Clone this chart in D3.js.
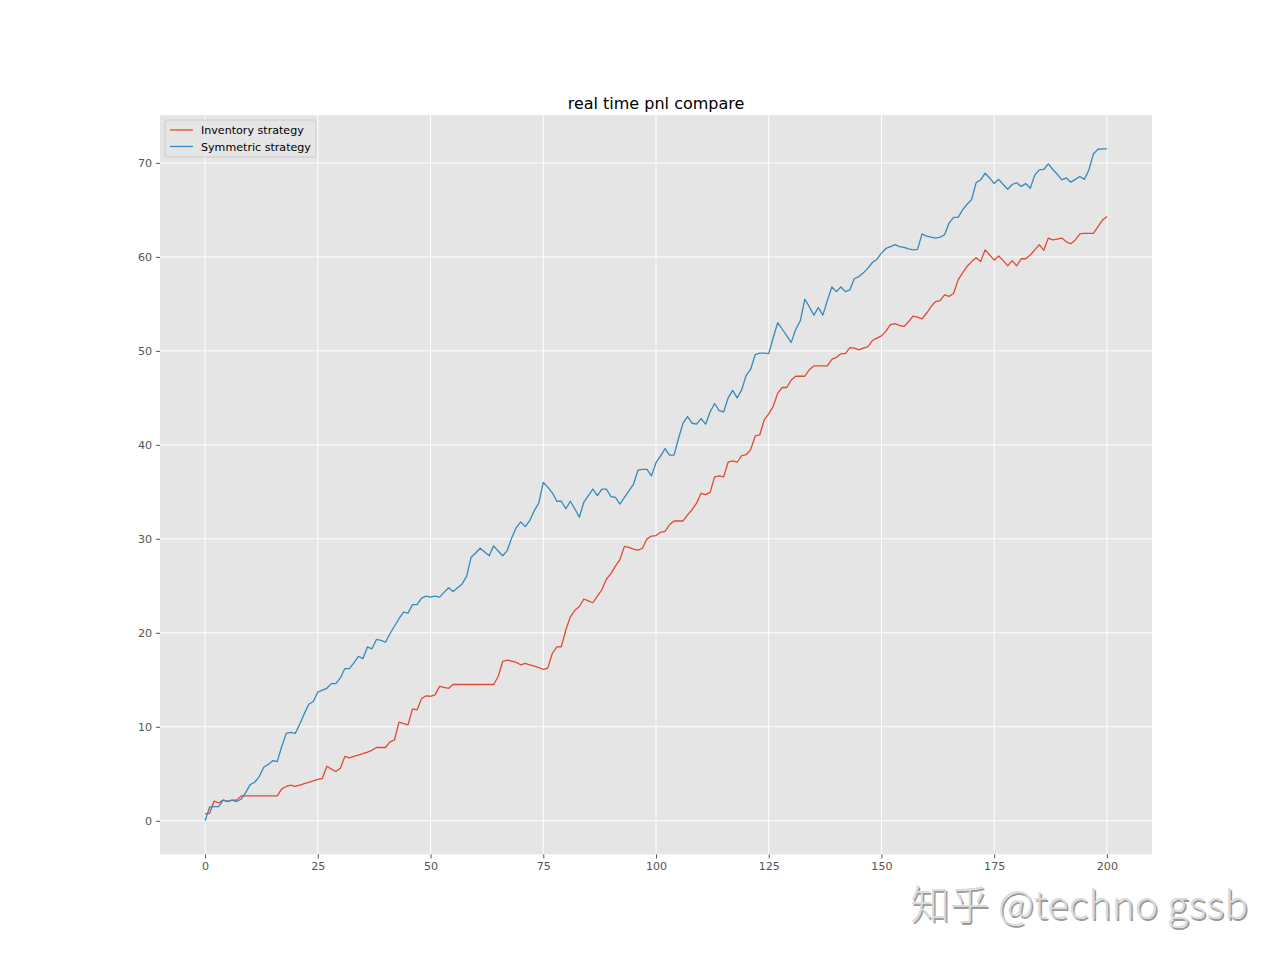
<!DOCTYPE html>
<html><head><meta charset="utf-8">
<script src="https://cdn.jsdelivr.net/npm/d3@7"></script>
<style>body{margin:0;background:#fff}svg{display:block}</style>
</head><body>
<script>
const title = "real time pnl compare";
const seriesNames = ["Inventory strategy", "Symmetric strategy"];
const xTicks = [0, 25, 50, 75, 100, 125, 150, 175, 200];
const yTicks = [0, 10, 20, 30, 40, 50, 60, 70];
const inventory = [
0.75,0.8,2.1,1.9,2.2,2.1,2.2,2.2,2.65,2.66,
2.66,2.66,2.66,2.66,2.66,2.66,2.66,3.4,3.65,3.8,
3.65,3.8,3.95,4.1,4.25,4.4,4.5,5.8,5.5,5.25,
5.6,6.85,6.7,6.85,7.0,7.15,7.3,7.5,7.8,7.8,
7.8,8.4,8.6,10.5,10.35,10.2,11.9,11.8,13.0,13.3,
13.25,13.4,14.3,14.2,14.1,14.5,14.5,14.5,14.5,14.5,
14.5,14.5,14.5,14.5,14.5,15.35,16.95,17.1,17.0,16.85,
16.6,16.75,16.6,16.45,16.3,16.1,16.25,17.8,18.5,18.5,
20.3,21.7,22.4,22.8,23.6,23.4,23.2,23.9,24.6,25.7,
26.3,27.1,27.8,29.2,29.1,28.9,28.8,29.0,30.0,30.3,
30.35,30.7,30.8,31.5,31.9,31.9,31.9,32.55,33.1,33.8,
34.85,34.7,34.95,36.6,36.7,36.6,38.15,38.3,38.15,38.85,
38.95,39.5,40.95,41.05,42.65,43.3,44.1,45.5,46.1,46.1,
46.9,47.3,47.3,47.3,48.0,48.4,48.4,48.4,48.4,49.1,
49.3,49.7,49.7,50.35,50.3,50.1,50.3,50.45,51.1,51.35,
51.6,52.1,52.8,52.9,52.7,52.6,53.1,53.7,53.6,53.4,
54.0,54.7,55.25,55.35,55.95,55.8,56.1,57.55,58.3,59.0,
59.5,59.9,59.5,60.75,60.2,59.65,60.1,59.6,59.05,59.6,
59.05,59.8,59.8,60.2,60.75,61.3,60.7,62.0,61.8,61.9,
62.0,61.6,61.4,61.8,62.45,62.5,62.5,62.5,63.2,63.9,
64.3];
const symmetric = [
0,1.45,1.5,1.5,2.2,2.05,2.2,2.05,2.3,3.0,
3.85,4.1,4.7,5.7,6.0,6.4,6.3,7.9,9.3,9.4,
9.3,10.3,11.4,12.4,12.7,13.7,13.9,14.1,14.6,14.6,
15.2,16.2,16.2,16.8,17.5,17.25,18.5,18.3,19.3,19.2,
19.0,19.9,20.7,21.5,22.2,22.1,23.0,23.0,23.7,23.9,
23.8,23.9,23.8,24.3,24.8,24.4,24.8,25.2,26.0,28.05,
28.5,29.0,28.6,28.2,29.25,28.7,28.2,28.75,30.1,31.2,
31.8,31.3,31.95,33.0,33.8,36.0,35.5,34.9,34.0,34.0,
33.2,34.0,33.2,32.3,33.9,34.6,35.3,34.6,35.3,35.3,
34.5,34.4,33.7,34.4,35.1,35.8,37.3,37.4,37.4,36.7,
38.1,38.8,39.6,38.9,38.9,40.7,42.3,43.0,42.3,42.2,
42.8,42.2,43.5,44.4,43.65,43.5,45.0,45.8,45.0,45.85,
47.4,48.05,49.6,49.75,49.75,49.7,51.4,53.0,52.3,51.6,
50.9,52.3,53.2,55.5,54.7,53.8,54.6,53.8,55.35,56.8,
56.3,56.8,56.3,56.5,57.7,57.9,58.3,58.8,59.4,59.75,
60.4,60.9,61.1,61.3,61.1,61.0,60.85,60.75,60.8,62.45,
62.2,62.1,62.0,62.1,62.35,63.6,64.2,64.2,65.0,65.6,
66.1,67.9,68.2,68.9,68.4,67.8,68.25,67.7,67.2,67.7,
67.9,67.5,67.8,67.3,68.7,69.25,69.3,69.9,69.3,68.8,
68.2,68.4,67.95,68.25,68.55,68.25,69.25,70.95,71.45,71.5,
71.5];
const watermark = "知乎 @techno gssb";

const W = 1280, H = 960;
const L = 160, R = 1152, T = 115.2, B = 854.4;
const colors = ["#E24A33", "#348ABD"];
const series = [inventory, symmetric];

const svg = d3.select("body").append("svg").attr("width", W).attr("height", H)
  .style("font-family", "'DejaVu Sans', sans-serif");

const n = inventory.length - 1;
const x = d3.scaleLinear().domain([-0.05 * n, n * 1.05]).range([L, R]);
const allV = inventory.concat(symmetric);
const vmin = d3.min(allV), vmax = d3.max(allV), pad = (vmax - vmin) * 0.05;
const y = d3.scaleLinear().domain([vmin - pad, vmax + pad]).range([B, T]);

svg.append("rect").attr("x", L).attr("y", T).attr("width", R - L).attr("height", B - T).attr("fill", "#E5E5E5");

// grid
const g = svg.append("g");
g.selectAll("line.vx").data(xTicks).join("line")
  .attr("x1", d => x(d)).attr("x2", d => x(d)).attr("y1", T).attr("y2", B)
  .attr("stroke", "#fff").attr("stroke-width", 1);
g.selectAll("line.hy").data(yTicks).join("line")
  .attr("y1", d => y(d)).attr("y2", d => y(d)).attr("x1", L).attr("x2", R)
  .attr("stroke", "#fff").attr("stroke-width", 1);

// axes
const xAxis = d3.axisBottom(x).tickValues(xTicks).tickSize(4).tickPadding(4);
const yAxis = d3.axisLeft(y).tickValues(yTicks).tickSize(4).tickPadding(4);
const gx = svg.append("g").attr("transform", `translate(0,${B})`).call(xAxis);
const gy = svg.append("g").attr("transform", `translate(${L},0)`).call(yAxis);
[gx, gy].forEach(a => {
  a.select(".domain").remove();
  a.selectAll(".tick line").attr("stroke", "#555555");
  a.selectAll(".tick text").attr("fill", "#555555").style("font-size", "11.1px")
    .style("font-family", "'DejaVu Sans', sans-serif");
});

// lines
const line = d3.line().x((d, i) => x(i)).y(d => y(d));
series.forEach((s, k) => {
  svg.append("path").datum(s).attr("d", line).attr("fill", "none")
    .attr("stroke", colors[k]).attr("stroke-width", 1.3).attr("stroke-linejoin", "round");
});

// title
svg.append("text").attr("x", (L + R) / 2).attr("y", 109).attr("text-anchor", "middle")
  .style("font-size", "16px").attr("fill", "#000").text(title);

// legend
const lg = svg.append("g");
lg.append("rect").attr("x", 165).attr("y", 120).attr("width", 151).attr("height", 37)
  .attr("rx", 2).attr("fill", "#E5E5E5").attr("fill-opacity", 0.8).attr("stroke", "#CCCCCC").attr("stroke-width", 1);
seriesNames.forEach((nm, k) => {
  const yy = 130 + k * 16.5;
  lg.append("line").attr("x1", 170).attr("x2", 193).attr("y1", yy).attr("y2", yy)
    .attr("stroke", colors[k]).attr("stroke-width", 1.3);
  lg.append("text").attr("x", 201).attr("y", yy + 4).style("font-size", "11.1px").attr("fill", "#000").text(nm);
});

// watermark
const wmFont = "'Noto Sans CJK SC', 'DejaVu Sans', sans-serif";
svg.append("text").attr("x", 1248).attr("y", 919).attr("text-anchor", "end")
  .style("font-size", "39.5px").style("font-family", wmFont).style("font-weight", 300)
  .attr("fill", "#9a9a9a").attr("transform", "translate(1.5,1.5)").text(watermark);
svg.append("text").attr("x", 1248).attr("y", 919).attr("text-anchor", "end")
  .style("font-size", "39.5px").style("font-family", wmFont).style("font-weight", 300)
  .attr("fill", "#dadada").text(watermark);
</script>
</body></html>
